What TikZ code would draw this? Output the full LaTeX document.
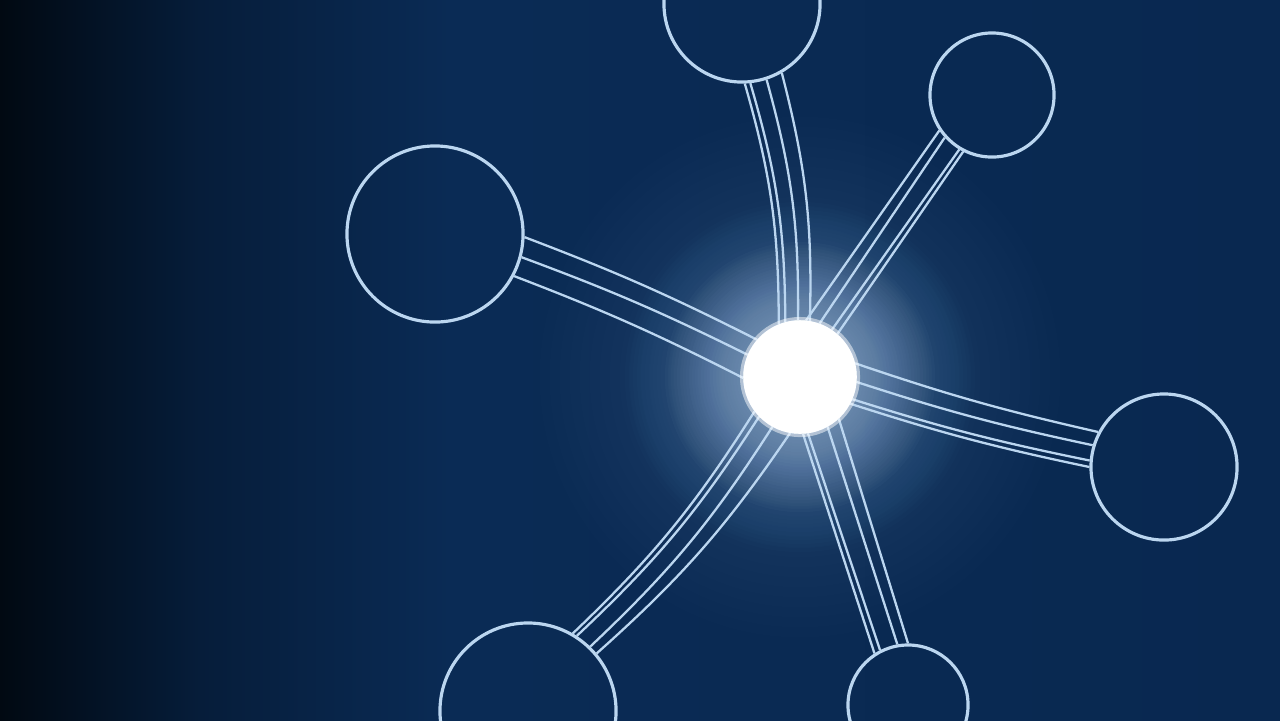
\documentclass[tikz,border=0pt]{standalone}
\definecolor{bgL}{HTML}{010912}
\definecolor{bgQ}{HTML}{061D3A}
\definecolor{bgM}{HTML}{0A2B55}
\definecolor{bgR}{HTML}{092850}
\definecolor{linec}{HTML}{BBD6F0}
\definecolor{glowc}{HTML}{8FBCE8}
\tikzset{
  orb/.style={circle, draw=linec, line width=0.9pt, inner sep=0pt, minimum size=#1},
  hub/.style={circle, fill=white, draw=white, line width=1pt, inner sep=0pt, minimum size=1.1cm},
  wire/.style={draw=linec, line width=0.65pt},
}
\begin{document}
\begin{tikzpicture}[x=0.01cm, y=-0.01cm]
\useasboundingbox (0,0) rectangle (1280,720);
\clip (0,0) rectangle (1280,720);
% background
\shade[left color=bgL, right color=bgQ] (0,0) rectangle (200,720);
\shade[left color=bgQ, right color=bgM] (199.5,0) rectangle (450,720);
\shade[left color=bgM, right color=bgR] (449.5,0) rectangle (1280,720);
% hub node first (for positions)
\node[hub] (c) at (800,377) {};
% glow
\foreach \r in {2.6,2.5,...,0.6} \fill[glowc, opacity=0.012] (c.center) circle (\r cm);
\foreach \r in {1.75,1.71,...,0.55} \fill[glowc, opacity=0.014] (c.center) circle (\r cm);
\foreach \r in {1.35,1.32,...,0.55} \fill[glowc!70!white, opacity=0.025] (c.center) circle (\r cm);
% nodes
\node[orb=1.76cm] (L)  at (435,234) {};
\node[orb=1.56cm] (T)  at (742,4) {};
\node[orb=1.24cm] (TR) at (992,95) {};
\node[orb=1.46cm] (R)  at (1164,467) {};
\node[orb=1.76cm] (BL) at (528,711) {};
\node[orb=1.20cm] (B)  at (908,705) {};
% left bundle
\draw[wire] (L.-2)  to[bend left=3] (c.139);
\draw[wire] (L.-15) to[bend left=3] (c.157);
\draw[wire] (L.-28) to[bend left=3] (c.181);
% top bundle
\draw[wire] (T.-88) to[bend left=8] (c.112);
\draw[wire] (T.-84) to[bend left=8] (c.105);
\draw[wire] (T.-72) to[bend left=8] (c.92);
\draw[wire] (T.-60) to[bend left=8] (c.80);
% top-right bundle
\draw[wire] (TR.214) to (c.84);
\draw[wire] (TR.222) to (c.70);
\draw[wire] (TR.239) to (c.56);
\draw[wire] (TR.243) to (c.49);
% right bundle
\draw[wire] (R.152) to[bend left=3] (c.14);
\draw[wire] (R.163) to[bend left=3] (c.-5);
\draw[wire] (R.175) to[bend left=3] (c.-23);
\draw[wire] (R.180) to[bend left=3] (c.-28);
% bottom-left bundle
\draw[wire] (c.217) to[bend left=7] (BL.60);
\draw[wire] (c.224) to[bend left=7] (BL.57);
\draw[wire] (c.241) to[bend left=7] (BL.46);
\draw[wire] (c.260) to[bend left=7] (BL.40);
% bottom bundle
\draw[wire] (c.273) to (B.123);
\draw[wire] (c.278) to (B.117);
\draw[wire] (c.299) to (B.100);
\draw[wire] (c.313) to (B.90);
% hub on top
\fill[white, opacity=0.5] (c.center) circle (0.6cm);
\node[hub] (c2) at (c.center) {};
\end{tikzpicture}
\end{document}
